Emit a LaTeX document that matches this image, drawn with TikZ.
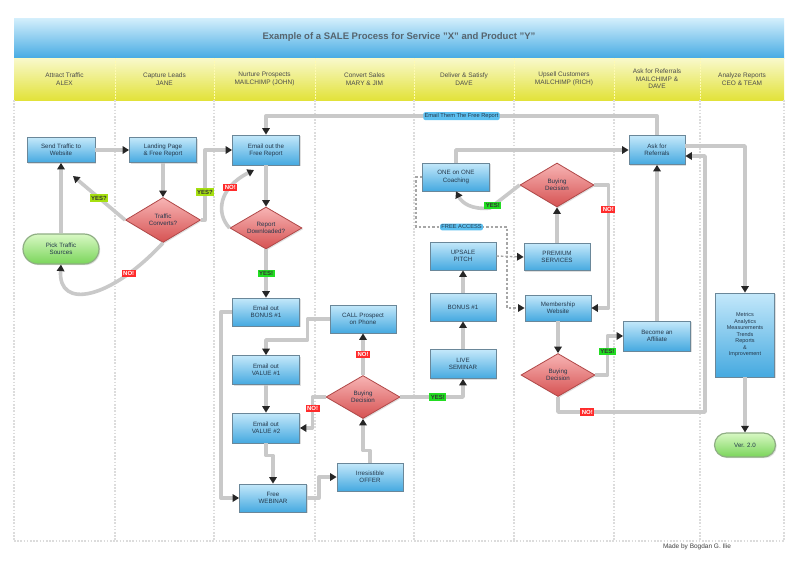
\documentclass[tikz,border=0pt]{standalone}
\usepackage{fontspec}
\setmainfont{Liberation Sans}
\usetikzlibrary{shapes.geometric,shapes.misc,arrows.meta,calc,shadows}
\definecolor{boxtop}{HTML}{C4E8FA}
\definecolor{boxbot}{HTML}{45A9E0}
\definecolor{boxline}{HTML}{6A8799}
\definecolor{diatop}{HTML}{F7B4B4}
\definecolor{diabot}{HTML}{D65252}
\definecolor{dialine}{HTML}{B04848}
\definecolor{termtop}{HTML}{D8F8C4}
\definecolor{termbot}{HTML}{7AD55A}
\definecolor{termline}{HTML}{8FAE84}
\definecolor{conn}{HTML}{C9C9C9}
\definecolor{lanegrid}{HTML}{DCDCDC}
\definecolor{titletop}{HTML}{D4EFFC}
\definecolor{titlebot}{HTML}{47ABE3}
\definecolor{headtop}{HTML}{F9F9CC}
\definecolor{headbot}{HTML}{E2E23A}
\definecolor{ink}{HTML}{24384C}
\definecolor{titleink}{HTML}{56646E}
\definecolor{yesqc}{HTML}{A6E010}
\definecolor{yesc}{HTML}{22DD22}
\definecolor{noc}{HTML}{FF2B2B}
\definecolor{tagblue}{HTML}{5CC0F0}
\begin{document}
\begin{tikzpicture}[x=1pt,y=-1pt,
  font=\fontsize{6.2}{7.2}\selectfont,
  box/.style={rectangle, draw=boxline, line width=0.8pt, top color=boxtop, bottom color=boxbot,
    text=ink, align=center, minimum width=67pt, minimum height=28pt, inner sep=1pt,
    drop shadow={opacity=0.25, shadow xshift=1.2pt, shadow yshift=-1.2pt}},
  dia/.style={diamond, aspect=1.7, draw=dialine, line width=0.8pt, top color=diatop, bottom color=diabot,
    text=ink, align=center, minimum width=74pt, minimum height=43pt, inner sep=0pt,
    drop shadow={opacity=0.25, shadow xshift=1.2pt, shadow yshift=-1.2pt}},
  term/.style={rounded rectangle, draw=termline, line width=1.2pt, top color=termtop, bottom color=termbot,
    text=ink, align=center, minimum width=78pt, minimum height=30pt, inner sep=1pt,
    drop shadow={opacity=0.25, shadow xshift=1.2pt, shadow yshift=-1.2pt}},
  conn/.style={draw=conn, line width=3.6pt, line join=round,
    -{Triangle[length=6.5pt,width=7.5pt,color=black!85]}},
  dconn/.style={draw=black!35, line width=1.4pt, dash pattern=on 2.5pt off 2pt,
    -{Triangle[length=6.5pt,width=7.5pt,color=black!85]}},
  yesq/.style={fill=yesqc, text=black!80, inner sep=1.5pt, font=\fontsize{6}{6}\selectfont\bfseries},
  yes/.style={fill=yesc, text=black!80, inner sep=1.5pt, font=\fontsize{6}{6}\selectfont\bfseries},
  no/.style={fill=noc, text=white, inner sep=1.5pt, font=\fontsize{6}{6}\selectfont\bfseries},
  tag/.style={fill=tagblue, rounded corners=2pt, text=ink, inner sep=1.3pt, font=\fontsize{5.7}{6}\selectfont},
  lanebd/.style={draw=lanegrid, line width=1.6pt, dash pattern=on 1.6pt off 1.6pt},
  headtxt/.style={text=black!70, align=center, font=\fontsize{6.5}{7.5}\selectfont}
]
\useasboundingbox (0,0) rectangle (800,566);
\fill[white] (0,0) rectangle (800,566);

% title and header
\shade[top color=titletop, bottom color=titlebot] (14,18) rectangle (784,58);
\node[font=\fontsize{9.5}{11}\selectfont\bfseries, text=titleink] (title) at (399,37)
  {Example of a SALE Process for Service "X" and Product "Y"};
\shade[top color=headtop, bottom color=headbot] (14,58) rectangle (784,100);
\draw[white!75!yellow, line width=1pt, dash pattern=on 1.5pt off 1.5pt] (14,58.5) -- (784,58.5);
\foreach \xx in {115,214,315,414,514,614,700}
  \draw[white!70!yellow, line width=1pt, dash pattern=on 1.5pt off 1.5pt] (\xx,58) -- (\xx,100);

\node[headtxt] (h1) at (64.5,79) {Attract Traffic\\ALEX};
\node[headtxt] (h2) at (164.5,79) {Capture Leads\\JANE};
\node[headtxt] (h3) at (264.5,79) {Nurture Prospects\\MAILCHIMP (JOHN)};
\node[headtxt] (h4) at (364.5,79) {Convert Sales\\MARY \& JIM};
\node[headtxt] (h5) at (464,79) {Deliver \& Satisfy\\DAVE};
\node[headtxt] (h6) at (564,79) {Upsell Customers\\MAILCHIMP (RICH)};
\node[headtxt] (h7) at (657,79) {Ask for Referrals\\MAILCHIMP \&\\DAVE};
\node[headtxt] (h8) at (742,79) {Analyze Reports\\CEO \& TEAM};

% lanes
\foreach \xx in {14,115,214,315,414,514,614,700,784}
  \draw[lanebd] (\xx,100) -- (\xx,541);
\draw[lanebd] (14,541) -- (784,541);

% nodes
\node[box, minimum width=68pt, minimum height=25pt] (send) at (61,150) {Send Traffic to\\Website};
\node[term] (pick) at (61,249) {Pick Traffic\\Sources};
\node[box, minimum height=25pt] (land) at (163,150) {Landing Page\\\& Free Report};
\node[dia, minimum width=75pt, minimum height=45pt] (conv) at (163,220) {Traffic\\Converts?};
\node[box, minimum height=30pt] (efr) at (266,150) {Email out the\\Free Report};
\node[dia, minimum width=72pt, minimum height=42pt] (rdl) at (266,228) {Report\\Downloaded?};
\node[box] (bon1) at (266,312) {Email out\\BONUS \#1};
\node[box, minimum height=29pt] (val1) at (266,370) {Email out\\VALUE \#1};
\node[box, minimum height=30pt] (val2) at (266,428) {Email out\\VALUE \#2};
\node[box] (web) at (273,498) {Free\\WEBINAR};
\node[box, minimum width=66pt] (call) at (363,319) {CALL Prospect\\on Phone};
\node[dia] (bd1) at (363,397) {Buying\\Decision};
\node[box, minimum width=66pt] (offer) at (370,477) {Irresistible\\OFFER};
\node[box] (one) at (456,177) {ONE on ONE\\Coaching};
\node[box, minimum width=66pt] (ups) at (463,256) {UPSALE\\PITCH};
\node[box, minimum width=66pt] (bonb) at (463,307) {BONUS \#1};
\node[box, minimum width=66pt, minimum height=29pt] (live) at (463,364) {LIVE\\SEMINAR};
\node[dia, minimum height=44pt] (bd2) at (557,185) {Buying\\Decision};
\node[box, minimum width=66pt, minimum height=27pt] (prem) at (557,257) {PREMIUM\\SERVICES};
\node[box, minimum width=66pt, minimum height=26pt] (memb) at (558,308) {Membership\\Website};
\node[dia] (bd3) at (558,375) {Buying\\Decision};
\node[box, minimum width=56pt, minimum height=29pt] (ask) at (657,150) {Ask for\\Referrals};
\node[box, minimum height=30pt] (aff) at (657,336) {Become an\\Affiliate};
\node[box, minimum width=59pt, minimum height=84pt, font=\fontsize{5.5}{6.5}\selectfont] (metr) at (745,335)
  {Metrics\\Analytics\\Measurements\\Trends\\Reports\\\&\\Improvement};
\node[term, minimum width=63pt, minimum height=24pt] (ver) at (745,445) {Ver. 2.0};

\coordinate (sendin) at (73,176);
\coordinate (efrin) at (254,170);

% connectors
\draw[conn] (send.east) -- (land.west);
\draw[conn] (land.south) -- (conv.north);
\draw[conn] (conv.west) -- node[yesq]{YES?} (sendin);
\draw[conn] (conv.south) .. controls (110,300) and (58,310) .. node[no,pos=0.22]{NO!} (pick.south);
\draw[conn] (pick.north) -- (send.south);
\draw[conn] (conv.east) -- ++(4,0) |- node[yesq,pos=0.2]{YES?} (efr.west);
\draw[conn] (efr.south) -- (rdl.north);
\draw[conn] (rdl.west) .. controls (216,214) and (218,188) .. node[no,pos=0.7]{NO!} (efrin);
\draw[conn] (rdl.south) -- node[yes]{YES!} (bon1.north);
\draw[conn] (bon1.west) -- ++(-11,0) |- (web.west);
\draw[conn] (call.west) -- ++(-22,0) -- ++(0,21) -| (val1.north);
\draw[conn] (val1.south) -- (val2.north);
\draw[conn] (val2.south) -- ++(0,12) -| (web.north);
\draw[conn] (web.east) -- ++(12,0) |- (offer.west);
\draw[conn] (offer.north) -- ++(0,-12) -| (bd1.south);
\draw[conn] (bd1.north) -- node[no]{NO!} (call.south);
\draw[conn] (bd1.west) -- ++(-13,0) |- node[no,pos=0.18]{NO!} (val2.east);
\draw[conn] (bd1.east) -| node[yes,pos=0.3]{YES!} (live.south);
\draw[conn] (live.north) -- (bonb.south);
\draw[conn] (bonb.north) -- (ups.south);
\draw[dconn] (ups.east) -- (prem.west);
\draw[conn] (prem.north) -- (bd2.south);
\draw[conn] (bd2.west) -- node[yes,pos=0.9]{YES!} (490,208) .. controls (472,210) and (462,203) .. (one.south);
\draw[conn] (bd2.east) -- ++(14,0) |- node[no,pos=0.1]{NO!} (memb.east);
\draw[conn] (one.north) |- (ask.west);
\draw[conn] (ask.north) -- ++(0,-19) -| node[tag,pos=0.25]{Email Them The Free Report} (efr.north);
\draw[dconn] (one.west) -- ++(-6,0) |- node[tag,pos=0.75]{FREE ACCESS} (507,227) |- (memb.west);
\draw[conn] (memb.south) -- (bd3.north);
\draw[conn] (bd3.east) -- ++(12,0) |- node[yes,pos=0.3]{YES!} (aff.west);
\draw[conn] (bd3.south) |- node[no,pos=0.6]{NO!} (705,412) |- ($(ask.east)+(0,6)$);
\draw[conn] (aff.north) -- (ask.south);
\draw[conn] ($(ask.east)+(0,-4)$) -| (metr.north);
\draw[conn] (metr.south) -- (ver.north);

\node[text=black!75, font=\fontsize{6.5}{7.5}\selectfont] (credit) at (697,547) {Made by Bogdan G. Ilie};
\end{tikzpicture}
\end{document}
